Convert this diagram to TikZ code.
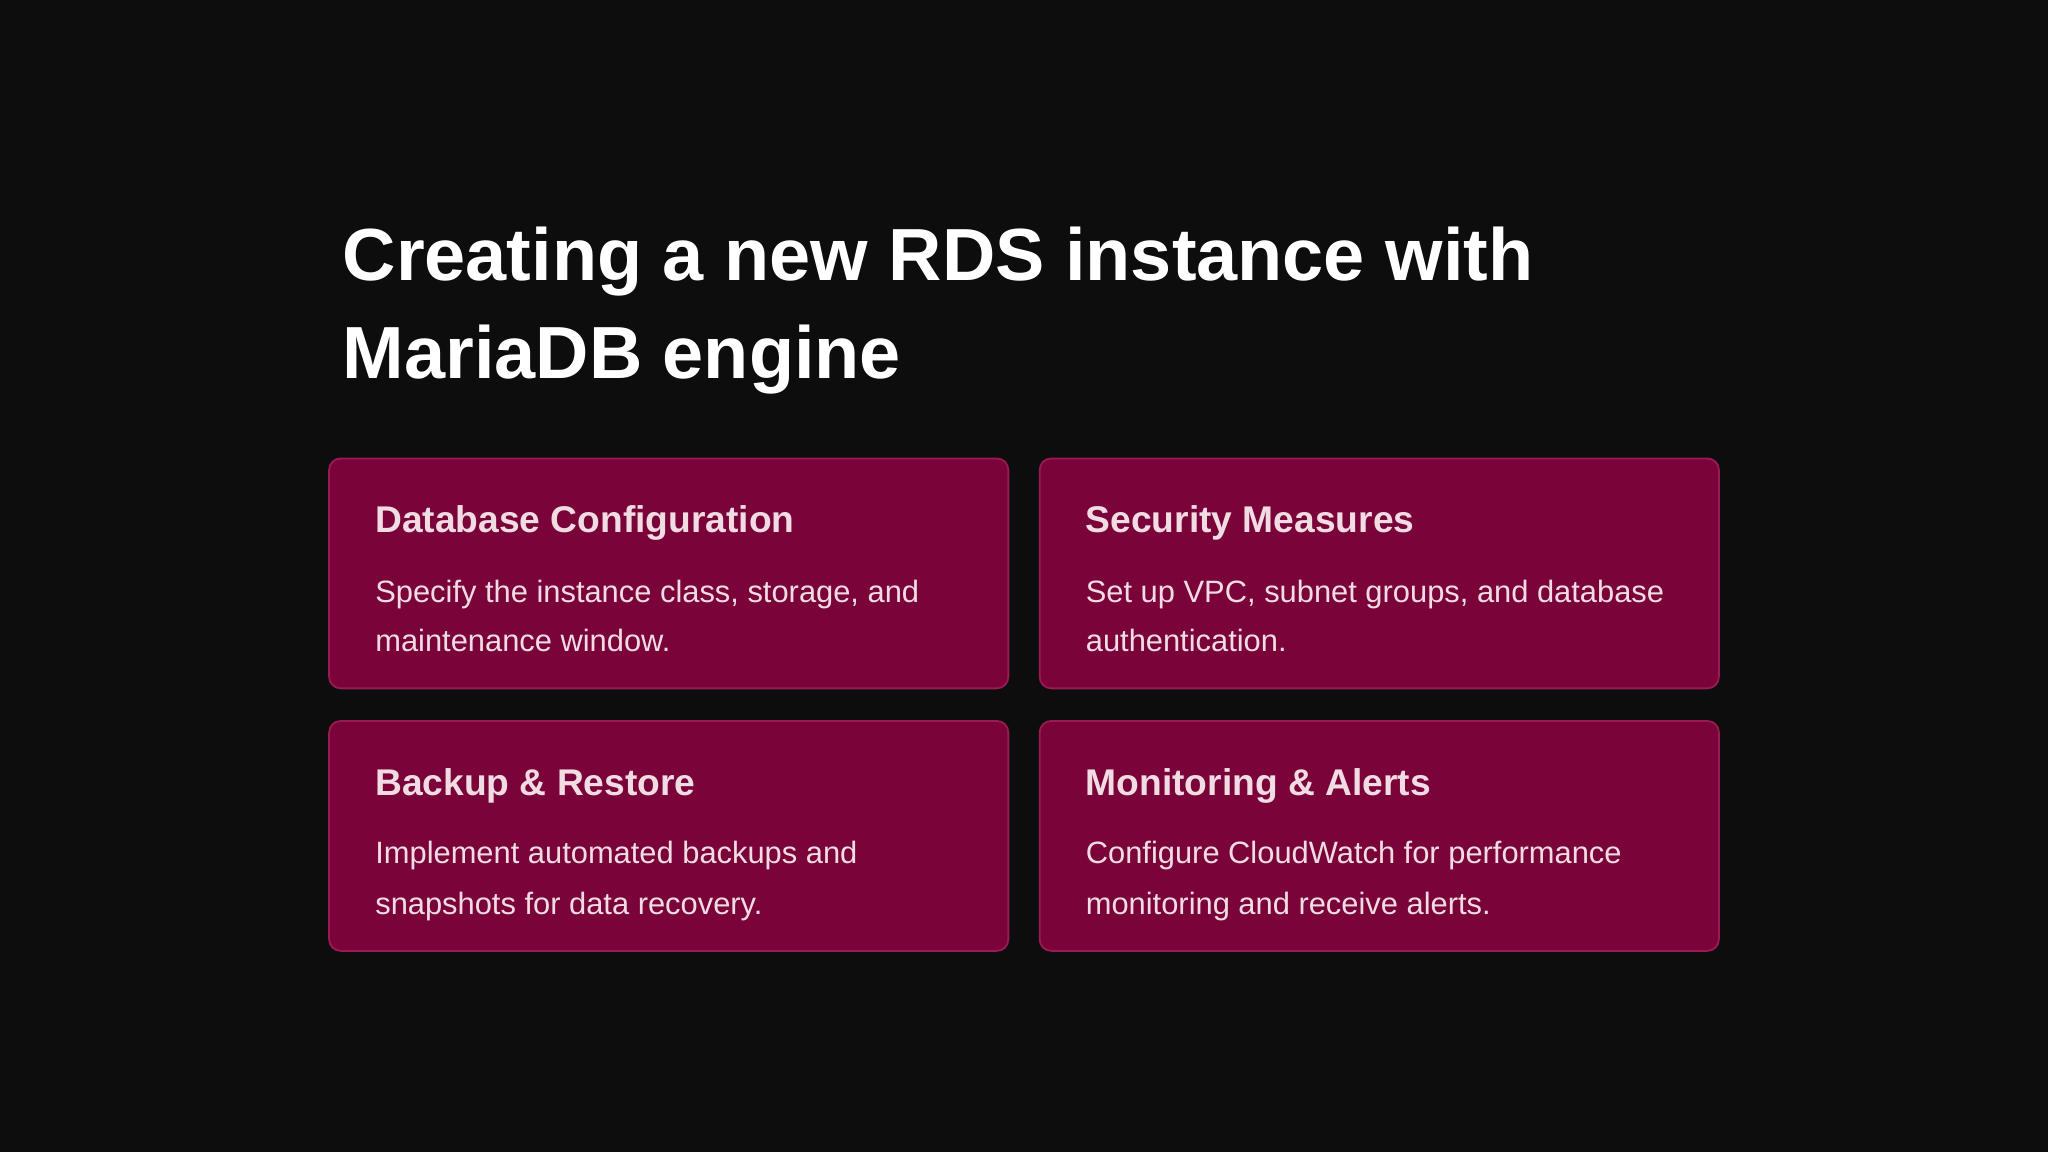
\documentclass[tikz,border=0pt]{standalone}
\usepackage{fontspec}
\setmainfont{Liberation Sans}
\definecolor{bg}{HTML}{0D0D0D}
\definecolor{card}{HTML}{7A0339}
\definecolor{cardline}{HTML}{9A1A52}
\definecolor{cardtext}{HTML}{F2DCE4}
\begin{document}
\begin{tikzpicture}[x=0.02cm,y=-0.02cm,
  cardbox/.style={fill=card,draw=cardline,line width=0.8pt,rounded corners=5pt},
  ttl/.style={anchor=base west,inner sep=0,text=white,font=\fontsize{32.2}{32.2}\selectfont\bfseries},
  head/.style={anchor=base west,inner sep=0,text=cardtext,font=\fontsize{16.2}{16.2}\selectfont\bfseries},
  body/.style={anchor=base west,inner sep=0,text=cardtext,font=\fontsize{13.45}{13.45}\selectfont}]
\fill[bg] (0,0) rectangle (1568,882);
\node[ttl] (t1) at (262,215) {Creating a new RDS instance with};
\node[ttl] (t2) at (262,290) {MariaDB engine};
\foreach \x/\y/\n in {252/351/a,796/351/b,252/552/c,796/552/d}{
  \draw[cardbox] (\x,\y) rectangle ++(520,176);
}
\node[head] (h1) at (287,408) {Database Configuration};
\node[body] (b1a) at (287,461) {Specify the instance class, storage, and};
\node[body] (b1b) at (287,499) {maintenance window.};
\node[head] (h2) at (831,408) {Security Measures};
\node[body] (b2a) at (831,461) {Set up VPC, subnet groups, and database};
\node[body] (b2b) at (831,499) {authentication.};
\node[head] (h3) at (287,609) {Backup \& Restore};
\node[body] (b3a) at (287,661) {Implement automated backups and};
\node[body] (b3b) at (287,700) {snapshots for data recovery.};
\node[head] (h4) at (831,609) {Monitoring \& Alerts};
\node[body] (b4a) at (831,661) {Configure CloudWatch for performance};
\node[body] (b4b) at (831,700) {monitoring and receive alerts.};
\end{tikzpicture}
\end{document}
